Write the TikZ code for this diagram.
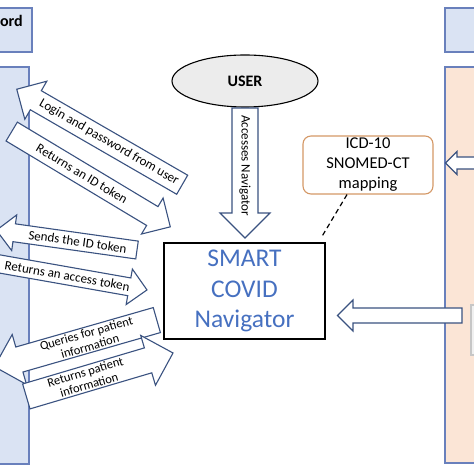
\documentclass[tikz,border=0pt]{standalone}
\usepackage{fontspec}
\setmainfont{Carlito}
\usetikzlibrary{shapes.geometric,calc}
\definecolor{colblue}{RGB}{218,227,243}
\definecolor{colpeach}{RGB}{251,229,214}
\definecolor{colline}{RGB}{105,128,188}
\definecolor{arrline}{RGB}{58,82,128}
\definecolor{navblue}{RGB}{70,112,192}
\definecolor{maporange}{RGB}{212,152,102}
\tikzset{
  colbox/.style={draw=colline, line width=1.1pt},
  barrow/.style={draw=arrline, fill=white, line width=1.1pt},
  barrowtext/.style={font=\fontsize{13}{15}\selectfont, inner sep=0pt, align=center},
  twoline/.style={font=\fontsize{12.5}{13.5}\selectfont},
}
% block arrow: [node options]{name}{centre of body}{angle}{flip}{body length}{body width}{head width}{text}
\newcommand\BlockArrow[9][]{
  \begin{scope}[shift={(#3)}, rotate=#4, xscale=#5]
    \pgfmathsetmacro\bl{#6/2}
    \pgfmathsetmacro\bw{#7/2}
    \pgfmathsetmacro\hw{#8/2}
    \draw[barrow] (-\bl,-\bw) -- (\bl,-\bw) -- (\bl,-\hw) -- (\bl+\hw,0)
      -- (\bl,\hw) -- (\bl,\bw) -- (-\bl,\bw) -- cycle;
  \end{scope}
  \node[barrowtext, rotate=#4, #1] (#2) at (#3) {#9};
}
\begin{document}
\begin{tikzpicture}[x=1pt, y=1pt]
\clip (0,0) rectangle (474,474);
\useasboundingbox (0,0) rectangle (474,474);

% left and right columns
\draw[colbox, fill=colblue] (-10,466) rectangle (32,422);
\draw[colbox, fill=colblue] (-10,407) rectangle (29,10);
\draw[colbox, fill=colblue] (445,466) rectangle (484,422);
\draw[colbox, fill=colpeach] (445,407) rectangle (484,11);
\draw[draw=gray!45, fill=gray!12, line width=1.1pt] (471,169) rectangle (484,119);
\node[anchor=east, font=\fontsize{16}{18}\selectfont\bfseries, inner sep=0pt] (ehr) at (23,453) {ord};

% user, navigator and mapping
\node[ellipse, draw, fill=gray!15, line width=1.1pt, minimum width=146, minimum height=52,
  inner sep=0pt, font=\fontsize{16}{18}\selectfont\bfseries] (user) at (245,393) {USER};
\node[draw, line width=1.1pt, minimum width=161, minimum height=96, inner sep=0pt,
  align=center, text=navblue, font=\fontsize{25.5}{30.5}\selectfont] (smart) at (244.5,183)
  {SMART\\COVID\\Navigator};
\node[draw=maporange, rounded corners=8pt, line width=1.1pt, minimum width=130, minimum height=58,
  inner sep=0pt, align=center, font=\fontsize{16.5}{20}\selectfont] (icd) at (368,309)
  {ICD-10\\SNOMED-CT\\mapping};
\coordinate (dashend) at ($(smart.north east)+(-3,7)$);
\draw[line width=1.2pt, dash pattern=on 5pt off 3.5pt] ($(icd.south west)!0.34!(icd.south east)$) -- (dashend);

% arrows
\BlockArrow{login}{109,331.5}{-30}{-1}{169}{22}{44}{Login and password from user}
\BlockArrow{idtoken}{82,300.2}{-31}{1}{164}{22}{42}{Returns an ID token}
\BlockArrow[xshift=2pt]{sendid}{75.6,232.6}{-8}{-1}{124}{18}{36}{Sends the ID token}
\BlockArrow[xshift=5pt]{access}{62.3,199}{-10}{1}{136}{18}{36}{Returns an access token}
\BlockArrow[twoline]{queries}{88.1,134.2}{16}{-1}{143}{26}{52}{Queries for patient\\information}
\BlockArrow[twoline]{patinfo}{87.2,95.6}{16.5}{1}{127}{26}{52}{Returns patient\\information}
\BlockArrow[xshift=5pt]{accesses}{245,313.5}{-90}{1}{105}{26}{50}{Accesses Navigator}
\BlockArrow{fromright}{407.5,158.5}{0}{-1}{109}{15}{31}{}
\BlockArrow{tomap}{473.5,311}{0}{-1}{33}{12}{23}{}
\end{tikzpicture}
\end{document}
